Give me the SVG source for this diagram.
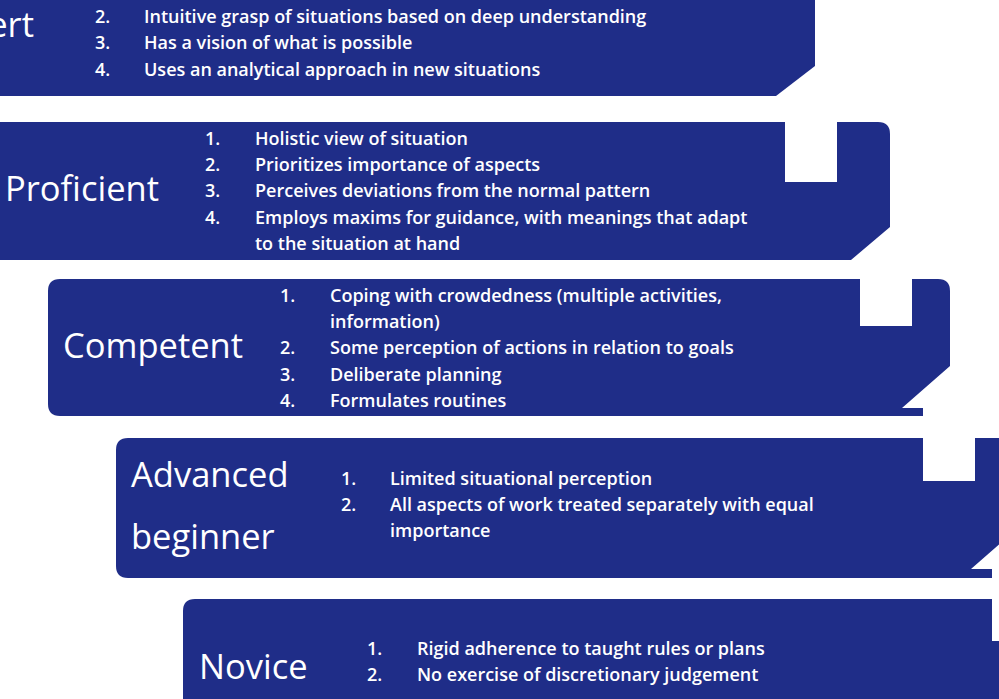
<svg xmlns="http://www.w3.org/2000/svg" width="999" height="699" viewBox="0 0 999 699">
<style>
.band{fill:#1f2d88}
.t{fill:#fff;font-family:"Open Sans","Liberation Sans",sans-serif;font-size:18px;font-weight:600}
.h{fill:#fff;font-family:"Open Sans","Liberation Sans",sans-serif;font-size:34.5px}
</style>
<rect width="999" height="699" fill="#fff"/>
<g id="expert">
<path class="band" d="M-10,-10 H815 V66 L776,96 H-10 Z"/>
<text class="h" x="34" y="37" text-anchor="end">Expert</text>
<text class="t" x="95" y="23">2.</text><text class="t" x="144" y="23">Intuitive grasp of situations based on deep understanding</text>
<text class="t" x="95" y="49">3.</text><text class="t" x="144" y="49">Has a vision of what is possible</text>
<text class="t" x="95" y="76">4.</text><text class="t" x="144" y="76">Uses an analytical approach in new situations</text>
</g>
<g id="proficient">
<path class="band" d="M-10,122 H785 V182 H837 V122 H878 Q890,122 890,134 V227 L851,260 H-10 Z"/>
<text class="h" x="5" y="201">Proficient</text>
<text class="t" x="205" y="145">1.</text><text class="t" x="255" y="145">Holistic view of situation</text>
<text class="t" x="205" y="171">2.</text><text class="t" x="255" y="171">Prioritizes importance of aspects</text>
<text class="t" x="205" y="197">3.</text><text class="t" x="255" y="197">Perceives deviations from the normal pattern</text>
<text class="t" x="205" y="224">4.</text><text class="t" x="255" y="224">Employs maxims for guidance, with meanings that adapt</text>
<text class="t" x="255" y="250">to the situation at hand</text>
</g>
<g id="competent">
<path class="band" d="M60,279 H860 V326 H912 V279 H938 Q950,279 950,291 V366 L902,408 H923 V416 H60 Q48,416 48,404 V291 Q48,279 60,279 Z"/>
<text class="h" x="63" y="358">Competent</text>
<text class="t" x="280" y="302">1.</text><text class="t" x="330" y="302">Coping with crowdedness (multiple activities,</text>
<text class="t" x="330" y="328">information)</text>
<text class="t" x="280" y="354">2.</text><text class="t" x="330" y="354">Some perception of actions in relation to goals</text>
<text class="t" x="280" y="381">3.</text><text class="t" x="330" y="381">Deliberate planning</text>
<text class="t" x="280" y="407">4.</text><text class="t" x="330" y="407">Formulates routines</text>
</g>
<g id="advanced">
<path class="band" d="M128,438 H923 V481 H975 V438 H1010 V535 L971,569 H992 V578 H128 Q116,578 116,566 V450 Q116,438 128,438 Z"/>
<text class="h" x="131" y="487">Advanced</text>
<text class="h" x="131" y="549">beginner</text>
<text class="t" x="341" y="485">1.</text><text class="t" x="390" y="485">Limited situational perception</text>
<text class="t" x="341" y="511">2.</text><text class="t" x="390" y="511">All aspects of work treated separately with equal</text>
<text class="t" x="390" y="537">importance</text>
</g>
<g id="novice">
<path class="band" d="M195,599 H992 V641 H1010 V710 H183 V611 Q183,599 195,599 Z"/>
<text class="h" x="199" y="679">Novice</text>
<text class="t" x="367" y="655">1.</text><text class="t" x="417" y="655">Rigid adherence to taught rules or plans</text>
<text class="t" x="367" y="681">2.</text><text class="t" x="417" y="681">No exercise of discretionary judgement</text>
</g>
<g id="connectors"></g>
</svg>
